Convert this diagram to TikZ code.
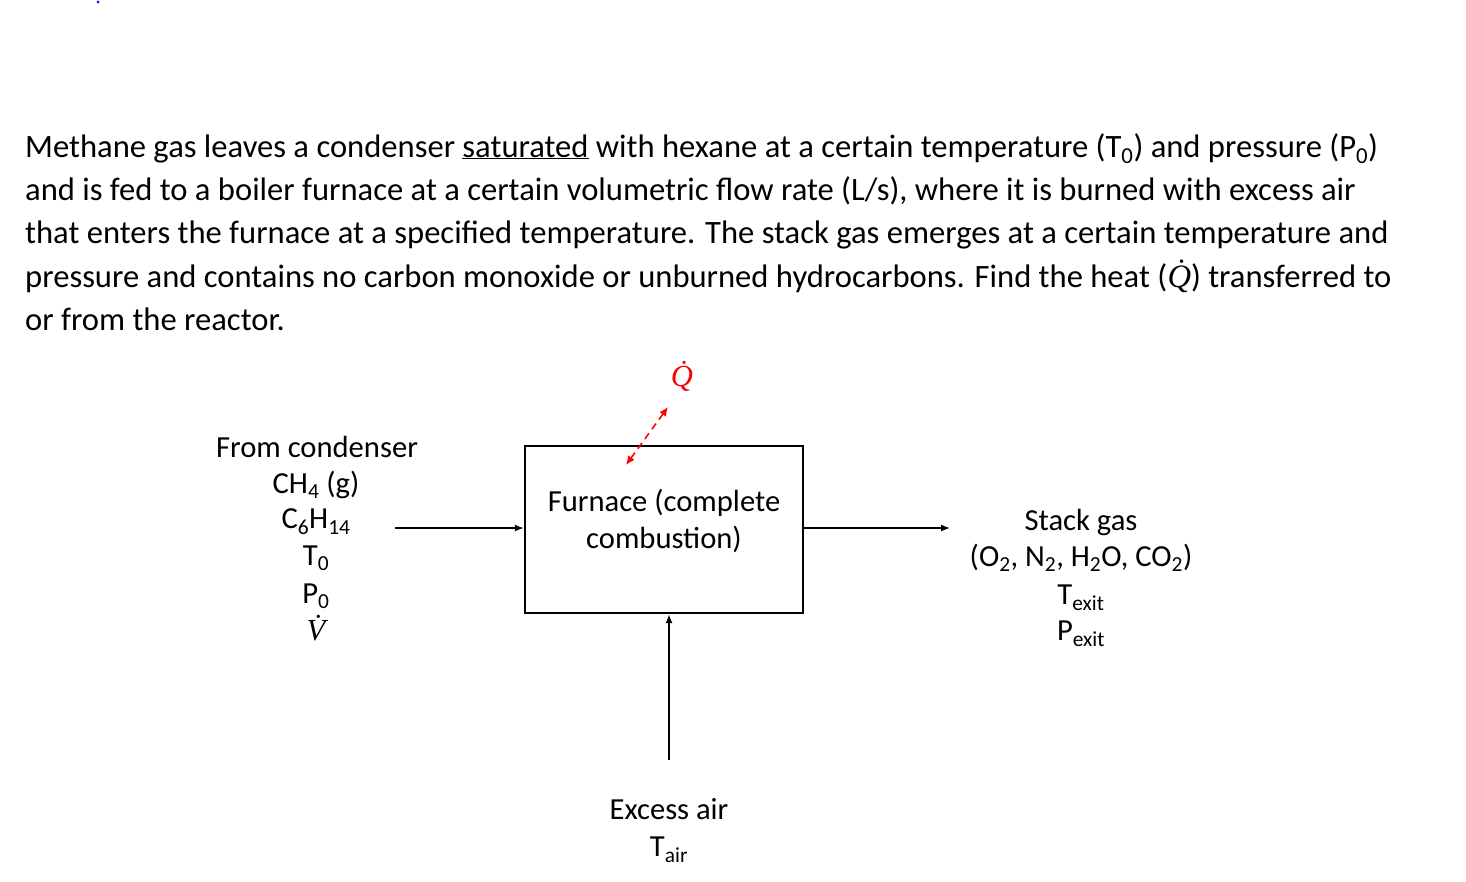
\documentclass[tikz,border=0pt]{standalone}
\usepackage{fontspec}
\setmainfont{Carlito}
\newfontfamily\mserif{Liberation Serif}
\newcommand{\dotvar}[1]{{\mserif\itshape\.{#1}}}
\usetikzlibrary{arrows.meta}
\begin{document}
\begin{tikzpicture}[x=1pt,y=-1pt,
  para/.style={anchor=base west,inner sep=0pt,font=\fontsize{32.6}{38}\selectfont},
  lbl/.style={inner sep=0pt,font=\fontsize{30.6}{36}\selectfont},
  flow/.style={line width=1.4pt,-{Latex[length=9pt,width=7pt]}},
  heat/.style={red,line width=1.6pt,dashed,dash pattern=on 7pt off 5pt,{Latex[length=9pt,width=8pt]}-{Latex[length=9pt,width=8pt]}}]
\useasboundingbox (0,0) rectangle (1466,881);
\fill[blue] (98,2) circle (1.5);
\node[para] (l1) at (25,157) {Methane gas leaves a condenser \underline{saturated} with hexane at a certain temperature (T\textsubscript{0}) and pressure (P\textsubscript{0})};
\node[para] (l2) at (25,200) {and is fed to a boiler furnace at a certain volumetric flow rate (L/s), where it is burned with excess air};
\node[para] (l3) at (25,243) {that enters the furnace at a specified temperature. The stack gas emerges at a certain temperature and};
\node[para] (l4) at (25,287) {pressure and contains no carbon monoxide or unburned hydrocarbons. Find the heat (\dotvar{Q}) transferred to};
\node[para] (l5) at (25,330) {or from the reactor.};

\node[draw,line width=2.4pt,minimum width=278pt,minimum height=167pt,inner sep=0pt] (furn) at (664,529.5) {};
\node[lbl,align=center] (ft) at (664,521) {Furnace (complete\\[1pt]combustion)};

\node[lbl] (fc) at (317,447) {From condenser};
\node[lbl] (ch4) at (316,485) {CH\textsubscript{4} (g)};
\node[lbl] (c6) at (316,522) {C\textsubscript{6}H\textsubscript{14}};
\node[lbl] (t0) at (316,558) {T\textsubscript{0}};
\node[lbl] (p0) at (316,596) {P\textsubscript{0}};
\node[lbl] (vd) at (316,628) {\dotvar{V}};

\node[lbl] (sg) at (1081,522) {Stack gas};
\node[lbl] (comp) at (1081,558) {(O\textsubscript{2}, N\textsubscript{2}, H\textsubscript{2}O, CO\textsubscript{2})};
\node[lbl] (tex) at (1081,598) {T\textsubscript{exit}};
\node[lbl] (pex) at (1081,634) {P\textsubscript{exit}};

\node[lbl] (ea) at (669,809) {Excess air};
\node[lbl] (ta) at (669,850) {T\textsubscript{air}};

\node[lbl,red] (q) at (682,376) {\dotvar{Q}};

\coordinate (inL) at (395,528);
\coordinate (outR) at (950,528);
\coordinate (airS) at (669,760);
\coordinate (qa) at (626,465);
\coordinate (qb) at (668,407);

\draw[flow] (inL) -- (inL -| furn.west);
\draw[flow] (inL -| furn.east) -- (outR);
\draw[flow] (airS) -- (airS |- furn.south);
\draw[heat] (qa) -- (qb);
\end{tikzpicture}
\end{document}
